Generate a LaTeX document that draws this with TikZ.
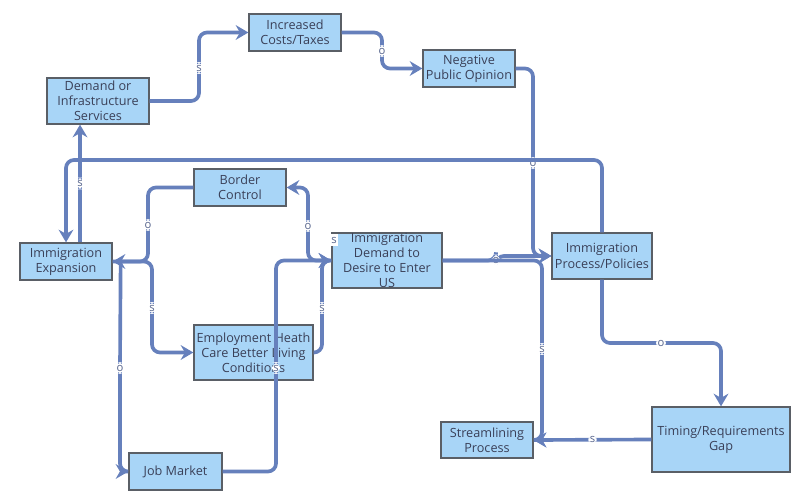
\documentclass[tikz,border=0pt]{standalone}
\usepackage{fontspec}
\setmainfont{Open Sans}
\usepackage{xcolor}
\usetikzlibrary{arrows.meta}
\definecolor{boxfill}{HTML}{A8D5F7}
\definecolor{boxline}{HTML}{5A5F66}
\definecolor{linkblue}{HTML}{6680BC}
\definecolor{txt}{HTML}{3A4058}
\definecolor{lbltxt}{HTML}{56648C}

\tikzset{
	box/.style={draw=boxline, line width=0.9pt, fill=boxfill, text=txt, align=center,
		inner sep=0pt, font=\fontsize{9}{10.8}\selectfont},
	link/.style={draw=linkblue, line width=2.6pt, rounded corners=0.2cm,
		-{Stealth[length=9pt, width=10.5pt, inset=3pt]}},
	lbl/.style={fill=white, text=lbltxt, inner xsep=1pt, inner ysep=2pt, font=\fontsize{8}{9}\selectfont}
}

\begin{document}
\begin{tikzpicture}[x=0.025cm, y=-0.025cm]
		\useasboundingbox (0,0) rectangle (800,504);
		
		\node[box, minimum width=2.55cm, minimum height=1.15cm] (demand) at (98,101) {Demand or\\Infrastructure\\Services};
		\node[box, minimum width=2.3cm, minimum height=0.925cm] (costs) at (295,32.5) {Increased\\Costs/Taxes};
		\node[box, minimum width=2.3cm, minimum height=0.925cm] (opinion) at (469,68.5) {Negative\\Public Opinion};
		
		\node[box, minimum width=2.3cm, minimum height=0.925cm] (border) at (240,187.5) {Border\\Control};
		\node[box, minimum width=2.3cm, minimum height=0.925cm] (expansion) at (66,261.5) {Immigration\\Expansion};
		\node[box, minimum width=2.75cm, minimum height=1.375cm] (desire) at (387,260.5) {Immigration\\Demand to\\Desire to Enter\\US};
		\node[box, minimum width=2.5cm, minimum height=1.15cm] (process) at (602,256) {Immigration\\Process/Policies};
		
		\node[box, minimum width=2.975cm, minimum height=1.375cm] (employ) at (253.5,352.5) {Employment Heath\\Care Better Living\\Conditions};
		\node[box, minimum width=2.325cm, minimum height=0.925cm] (job) at (175.5,471.5) {Job Market};
		\node[box, minimum width=2.3cm, minimum height=0.9cm] (stream) at (487,440) {Streamlining\\Process};
		\node[box, minimum width=3.45cm, minimum height=1.625cm] (timing) at (721,439.5) {Timing/Requirements\\Gap};
		
		\draw[link] (demand.east) -| (199,68) node[lbl] {s} |- (costs.west);
		\draw[link] (costs.east) -| (382,51) node[lbl] {o} |- (opinion.west);
		\draw[link] (opinion.east) -| (533,163) node[lbl] {o} |- (process.west);
		\draw[link] (process.north) |- (300,160) -| (expansion.north);
		\draw[link] ([xshift=0.35cm]expansion.north) -- node[lbl] {s} ([xshift=0.35cm]expansion.north |- demand.south);
		\draw[link] (border.west) -| (148,225) node[lbl] {o} |- (expansion.east);
		\draw[link] (expansion.east) -| (152,308) node[lbl] {s} |- (employ.west);
		\draw[link] ([xshift=0.2cm]expansion.east) -- (120,368) node[lbl] {o} |- (job.west);
		\draw[link] (desire.west) -| (308,226) node[lbl] {o} |- (border.east);
		\draw[link] (employ.east) -| (322,308) node[lbl] {s} |- (desire.west);
		\draw[link] (job.east) -| (276,368) node[lbl] {s} |- (desire.west);
		\draw[link] (desire.east) -- (496,260.5) node[lbl] {o} |- (process.west);
		\draw[link] (desire.east) -| (542,349) node[lbl] {s} |- (stream.east);
		\draw[link] (timing.west) -- node[lbl] {s} (stream.east);
		\draw[link] (process.south) |- (661,343) node[lbl] {o} -| (timing.north);
		
		\node[lbl] (desiremark) at (334,240) {s};
	\end{tikzpicture}
\end{document}
